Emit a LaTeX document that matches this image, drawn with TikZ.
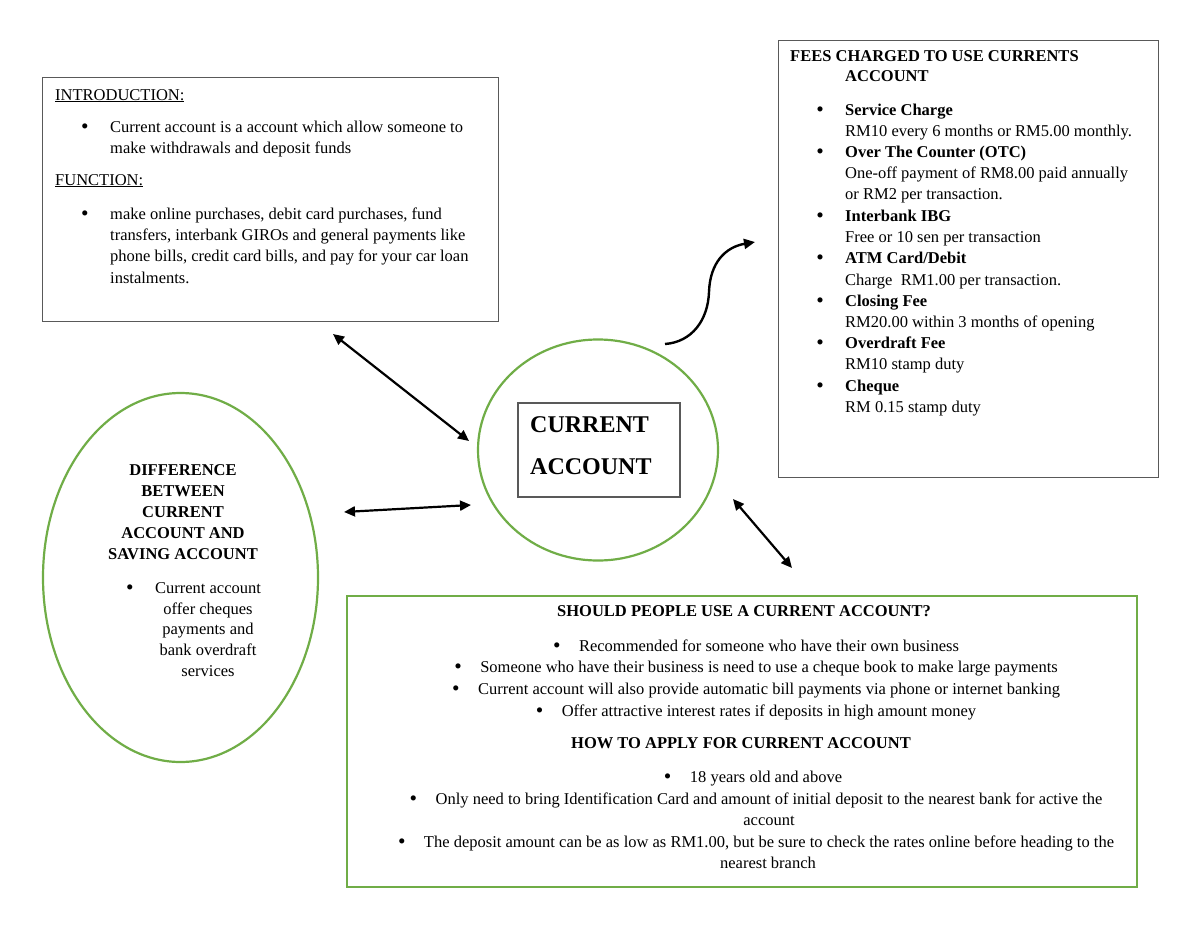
\documentclass[tikz,border=0pt]{standalone}
\usepackage{fontspec}
\setmainfont{Liberation Serif}
\usetikzlibrary{arrows.meta,shapes.geometric,calc}
\definecolor{wgreen}{HTML}{70AD47}
\definecolor{bgray}{HTML}{595959}
\newcommand\mybu{\raisebox{-1.8pt}{\scalebox{1.3}{\textbullet}}}
\begin{document}
\begin{tikzpicture}[x=1pt,y=-1pt,
  txt/.style={inner sep=0pt, font=\fontsize{16.5}{20}\selectfont, anchor=base west},
  btxt/.style={txt, font=\fontsize{16.5}{20}\selectfont\bfseries},
  ctxt/.style={txt, anchor=base},
  cbtxt/.style={btxt, anchor=base},
  bul/.style={txt, anchor=base},
  graybox/.style={draw=bgray, line width=1.3pt, inner sep=0pt},
  greenline/.style={draw=wgreen, line width=2.2pt, inner sep=0pt},
  dbl/.style={line width=2.2pt, {Triangle[length=11pt,width=10pt]}-{Triangle[length=11pt,width=10pt]}},
  sgl/.style={line width=2.4pt, -{Triangle[length=11pt,width=10pt]}},
]
\useasboundingbox (0,0) rectangle (1200,927);

% ---- shapes
\node[graybox, minimum width=456pt, minimum height=244pt, anchor=north west] (intro) at (42,77) {};
\node[graybox, minimum width=380pt, minimum height=437pt, anchor=north west] (fees) at (778,40) {};
\node[greenline, minimum width=790pt, minimum height=291pt, anchor=north west] (apply) at (346,595) {};
\node[greenline, ellipse, minimum width=240pt, minimum height=221pt] (cacc) at (598,450) {};
\node[graybox, minimum width=162pt, minimum height=94pt] (cbox) at (599,450) {};
\node[greenline, ellipse, minimum width=275pt, minimum height=369pt] (diff) at (180.5,577.5) {};

% ---- center text
\node[txt, font=\fontsize{24}{28}\selectfont\bfseries] (c1) at (530,432) {CURRENT};
\node[txt, font=\fontsize{24}{28}\selectfont\bfseries] (c2) at (530,474) {ACCOUNT};

% ---- intro
\node[txt] (i0) at (55,100) {\underline{INTRODUCTION:}};
\node[bul] (ib1) at (85,132) {\mybu};
\node[txt] (i1) at (110,132) {Current account is a account which allow someone to};
\node[txt] (i2) at (110,153) {make withdrawals and deposit funds};
\node[txt] (i3) at (55,185) {\underline{FUNCTION:}};
\node[bul] (ib2) at (85,219) {\mybu};
\node[txt] (i4) at (110,219) {make online purchases, debit card purchases, fund};
\node[txt] (i5) at (110,240) {transfers, interbank GIROs and general payments like};
\node[txt] (i6) at (110,261) {phone bills, credit card bills, and pay for your car loan};
\node[txt] (i7) at (110,283) {instalments.};

% ---- fees
\node[btxt] (f0) at (790,61) {FEES CHARGED TO USE CURRENTS};
\node[btxt] (f00) at (845,81) {ACCOUNT};
\node[bul] (fb1) at (820,115) {\mybu};
\node[btxt] (f1) at (845,115) {Service Charge};
\node[txt] (f2) at (845,136) {RM10 every 6 months or RM5.00 monthly.};
\node[bul] (fb2) at (820,157) {\mybu};
\node[btxt] (f3) at (845,157) {Over The Counter (OTC)};
\node[txt] (f4) at (845,178) {One-off payment of RM8.00 paid annually};
\node[txt] (f5) at (845,199) {or RM2 per transaction.};
\node[bul] (fb3) at (820,221) {\mybu};
\node[btxt] (f6) at (845,221) {Interbank IBG};
\node[txt] (f7) at (845,242) {Free or 10 sen per transaction};
\node[bul] (fb4) at (820,263) {\mybu};
\node[btxt] (f8) at (845,263) {ATM Card/Debit};
\node[txt] (f9) at (845,285) {Charge\ \ RM1.00 per transaction.};
\node[bul] (fb5) at (820,306) {\mybu};
\node[btxt] (f10) at (845,306) {Closing Fee};
\node[txt] (f11) at (845,327) {RM20.00 within 3 months of opening};
\node[bul] (fb6) at (820,348) {\mybu};
\node[btxt] (f12) at (845,348) {Overdraft Fee};
\node[txt] (f13) at (845,369) {RM10 stamp duty};
\node[bul] (fb7) at (820,391) {\mybu};
\node[btxt] (f14) at (845,391) {Cheque};
\node[txt] (f15) at (845,412) {RM 0.15 stamp duty};

% ---- difference ellipse text
\node[cbtxt] (d1) at (183,475) {DIFFERENCE};
\node[cbtxt] (d2) at (183,496) {BETWEEN};
\node[cbtxt] (d3) at (183,517) {CURRENT};
\node[cbtxt] (d4) at (183,538) {ACCOUNT AND};
\node[cbtxt] (d5) at (183,559) {SAVING ACCOUNT};
\node[bul] (db) at (130,593) {\mybu};
\node[ctxt] (d6) at (208,593) {Current account};
\node[ctxt] (d7) at (208,614) {offer cheques};
\node[ctxt] (d8) at (208,634) {payments and};
\node[ctxt] (d9) at (208,655) {bank overdraft};
\node[ctxt] (d10) at (208,676) {services};

% ---- bottom box
\node[cbtxt] (s0) at (744,616) {SHOULD PEOPLE USE A CURRENT ACCOUNT?};
\node[ctxt] (s1) at (769,651) {Recommended for someone who have their own business};
\node[ctxt] (s2) at (769,672) {Someone who have their business is need to use a cheque book to make large payments};
\node[ctxt] (s3) at (769,694) {Current account will also provide automatic bill payments via phone or internet banking};
\node[ctxt] (s4) at (769,716) {Offer attractive interest rates if deposits in high amount money};
\node[cbtxt] (h0) at (741,748) {HOW TO APPLY FOR CURRENT ACCOUNT};
\node[ctxt] (h1) at (766,782) {18 years old and above};
\node[ctxt] (h2) at (769,804) {Only need to bring Identification Card and amount of initial deposit to the nearest bank for active the};
\node[ctxt] (h3) at (769,825) {account};
\node[ctxt] (h4) at (769,847) {The deposit amount can be as low as RM1.00, but be sure to check the rates online before heading to the};
\node[ctxt] (h5) at (768,868) {nearest branch};
\foreach \t in {s1,s2,s3,s4,h1,h2,h4}{
  \node[txt, anchor=base] (b\t) at ($(\t.base west)+(-22,0)$) {\mybu};
}

% ---- connectors
\coordinate (a1s) at (333,334);
\coordinate (a1e) at (469,441);
\coordinate (a2s) at (344,512);
\coordinate (a2e) at (471,505);
\coordinate (a3s) at (733,499);
\coordinate (a3e) at (792,568);
\coordinate (a4s) at (665,344);
\coordinate (a4e) at (755,242);
\draw[dbl] (a1s) -- (a1e);
\draw[dbl] (a2s) -- (a2e);
\draw[dbl] (a3s) -- (a3e);
\draw[sgl] (a4s) .. controls (692,342) and (708,320) .. (709,292) .. controls (710,262) and (726,247) .. (a4e);
\end{tikzpicture}
\end{document}
